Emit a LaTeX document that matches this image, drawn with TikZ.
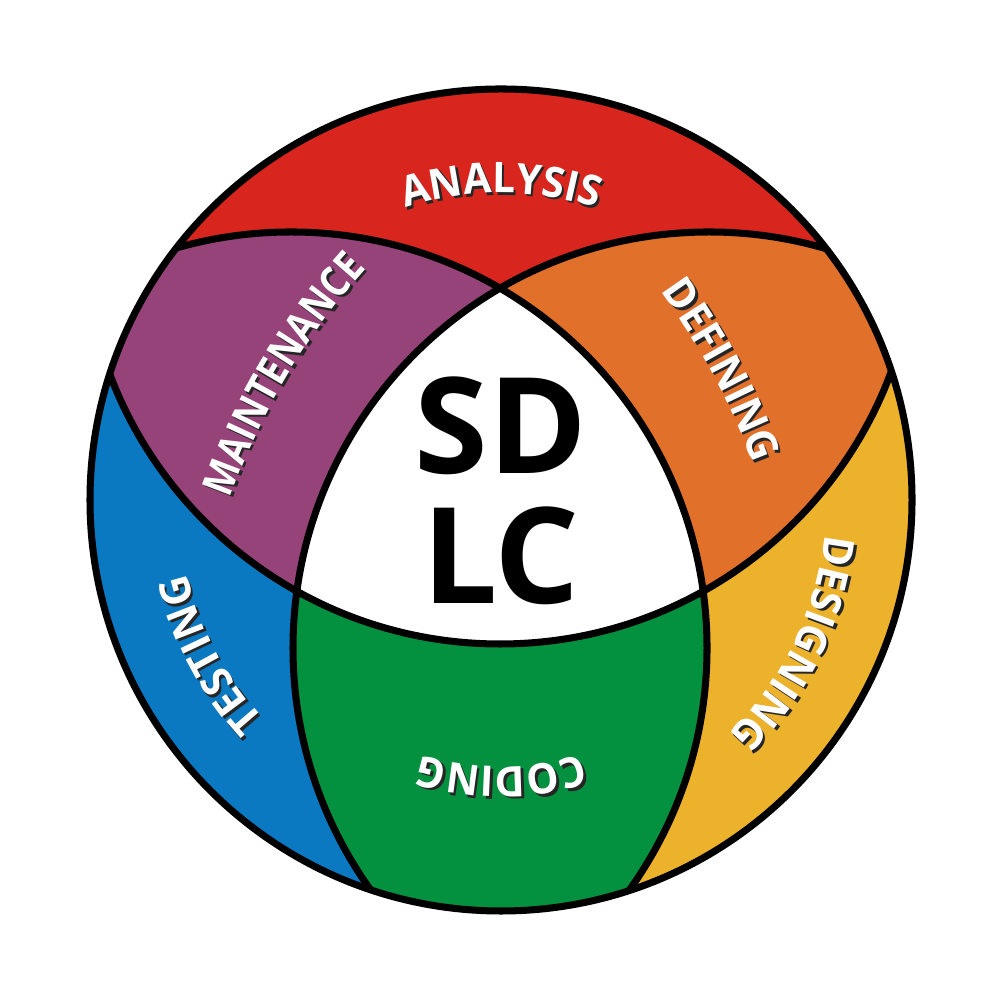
\documentclass[tikz,border=0pt]{standalone}
\usepackage{fontspec}
\setmainfont{Open Sans}
\newfontfamily\phasefam{Open Sans}[FakeStretch=0.96]
\newfontfamily\phasefamnarrow{Open Sans}[FakeStretch=0.86]
\usetikzlibrary{decorations.text}

\definecolor{analysisred}{HTML}{D8261E}
\definecolor{defineorange}{HTML}{E0702A}
\definecolor{designyellow}{HTML}{EDB22C}
\definecolor{codinggreen}{HTML}{04913F}
\definecolor{testingblue}{HTML}{0A79C1}
\definecolor{maintpurple}{HTML}{96437A}

\newcommand{\labelfont}{\phasefam\bfseries\fontsize{12}{12}\selectfont}
% label on a clockwise arc (centre, mid angle, radius, half span, text), with a dark shadow
\newcommand{\phaselabel}[5]{%
  \path[decorate,decoration={text along path,text align=center,
    text={|\labelfont\color{black!85}|#5}}]
    ([shift={(#2+#4:#3)},xshift=0.025cm,yshift=-0.025cm]#1) arc[start angle=#2+#4,end angle=#2-#4,radius=#3];
  \path[decorate,decoration={text along path,text align=center,
    text={|\labelfont\color{white}|#5}}]
    ([shift={(#2+#4:#3)}]#1) arc[start angle=#2+#4,end angle=#2-#4,radius=#3];
}

\begin{document}
\begin{tikzpicture}[line width=2pt]
  \fill[white] (0,0) rectangle (10,10);
  \useasboundingbox (0,0) rectangle (10,10);
  \coordinate (O) at (5.01,5.00);
  \coordinate (T) at (5.00,7.73);
  \coordinate (L) at (2.91,3.52);
  \coordinate (R) at (7.09,3.52);
  \coordinate (maintc) at (8.76,2.74);
  \coordinate (definec) at (0.82,2.89);

  \begin{scope}
    \clip (O) circle (4.11);
    \fill[analysisred] (T) circle (4.17);
    \fill[testingblue] (L) circle (4.16);
    \fill[designyellow] (R) circle (4.16);
    \begin{scope}
      \clip (T) circle (4.17);
      \fill[maintpurple] (L) circle (4.16);
      \fill[defineorange] (R) circle (4.16);
    \end{scope}
    \begin{scope}
      \clip (L) circle (4.16);
      \fill[codinggreen] (R) circle (4.16);
      \clip (T) circle (4.17);
      \fill[white] (R) circle (4.16);
    \end{scope}
    \draw (T) circle (4.17) (L) circle (4.16) (R) circle (4.16);
  \end{scope}
  \draw (O) circle (4.11);

  \node[font=\fontsize{38}{37}\selectfont\bfseries,align=center] (sdlc) at (5.01,5.09) {SD\\LC};

  \phaselabel{O}{90}{3.07}{40}{ANALYSIS}
  \phaselabel{definec}{28.1}{7.15}{16}{DEFINING}
  \phaselabel{O}{-26}{3.26}{40}{DESIGNING}
  \phaselabel{O}{-90}{2.67}{40}{CODING}
  \phaselabel{O}{208}{3.23}{40}{TESTING}
  \renewcommand{\labelfont}{\phasefamnarrow\bfseries\fontsize{12}{12}\selectfont}
  \phaselabel{maintc}{149.3}{6.85}{17}{MAINTENANCE}
\end{tikzpicture}
\end{document}
